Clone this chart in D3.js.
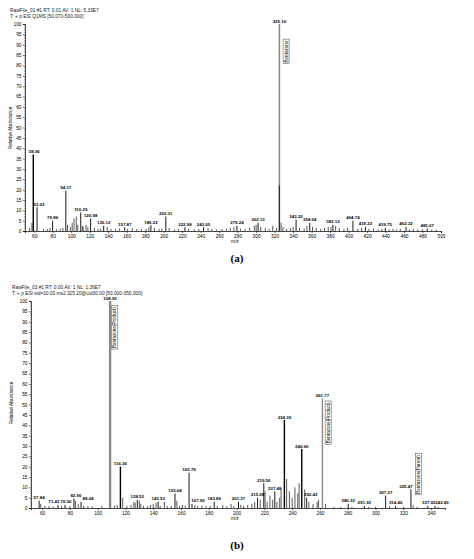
<!DOCTYPE html>
<html><head><meta charset="utf-8">
<script src="https://cdn.jsdelivr.net/npm/d3@7"></script>
<style>
body{margin:0;background:#fff;}
svg{display:block;font-family:"Liberation Sans",Arial,sans-serif;}
</style></head>
<body><svg id="c" width="474" height="559"></svg>
<script>
// ---------- Panel (a) data ----------
const headerA = ["RawFile_01 #1  RT: 0.01  AV: 1  NL: 5.33E7", "T: + p ESI Q1MS [50.070-500.000]"];
const mzA = [58.96, 63.03, 79.86, 94.17, 110.29, 120.98, 135.12, 157.87, 186.22, 202.31, 222.98, 243.05, 279.24, 302.13, 325.16, 343.22, 358.04, 383.12, 404.74, 418.23, 439.75, 462.22, 485.07];
const intA = [37, 11.5, 5, 19.5, 9, 6, 2.5, 1.8, 2.8, 7, 1.8, 1.8, 2.5, 4, 100, 5.5, 4, 3, 5, 2, 1.5, 2, 1.2];
const minorMzA = [55,57.5,70,74,77,84,88,91,96,99,101,103,105.5,107,112,113,116,118,125,129,132,139,143,148,152,161,166,171,176,181,184,190,195,198,206,212,216,227,233,238,248,252,257,263,268,272,276,283,288,293,298,300,305,310,314,318,322,327,329,333,337,340,347,352,355,361,365,370,374,378,381,386,390,395,399,410,414,422,427,432,436,444,448,452,456,466,470,475,480,490,495];
const minorIntA = [1.5,4,1,1,1.5,1,1.2,1.5,3,2,4,6,7,3,2.5,2,3,2,1.5,1,1.2,2,1,1,1.2,1,1.3,1,0.8,1,1.8,1.5,1,1.2,1.5,0.8,1,1,0.8,1,1.5,1,0.8,1,1,1.5,1.8,1.2,1,1.5,2.5,3,2,1.5,1,2.5,1.5,4,2,1,1.5,2,1.5,1.2,2.5,2,1.5,1,1.5,2,2,2.5,1.5,1,1.5,1,1.5,1,1.2,0.8,1,0.8,1,0.7,1,0.8,1,0.7,0.8,0.7,0.6];
const tagTextA = ["Bentazone"];
const tagMzA = [325.16];

// ---------- Panel (b) data ----------
const headerB = ["RawFile_03 #1  RT: 0.00  AV: 1  NL: 1.36E7", "T: + p ESI sid=10.00 ms2 325.20@cid30.00 [50.000-350.000]"];
const mzB = [57.84, 71.42, 76.50, 82.90, 88.04, 108.93, 116.36, 128.52, 143.53, 155.64, 165.79, 167.90, 183.89, 201.37, 215.08, 219.56, 227.48, 234.39, 246.90, 250.42, 261.77, 280.32, 291.93, 307.27, 314.46, 325.47, 337.65, 342.80];
const intB = [3.5, 1.5, 1.5, 4.5, 3, 100, 20, 4, 3, 7, 17, 2, 3, 3, 5, 12, 8, 42.5, 28.5, 5, 53, 2, 1, 6, 1, 9, 1, 1];
const minorMzB = [59,62,65,68,74,80,84,86,90,93,96,103,112,114,118,121,124,126,127,130,131,133,136,138,140,142,145,148,150,153,157,159,161,163,170,172,175,178,181,186,190,193,196,198,203,205,208,211,213,217,220.5,222,224,226,229,231,232,236,238,240,242,244,245,249,252,255,258,259,264,270,275,283,295,300,310,320,327,330,345];
const minorIntB = [2,1,1,0.8,1,1,3.5,2,1,1,0.8,1,1.2,1.5,5,1,1.5,3,2.5,3.5,2,1,1,1.5,2,2.5,1,3,1,1,3.5,1,1.5,1,1.5,1,1.2,1,1,1,1.5,1,2,1,1.5,1,1.5,2,3,4,8,3,6,4,3,5,9,14,8,5,10,7,12,9,3,2,3,4,2,0.5,0.5,0.6,0.5,0.5,0.8,0.5,1.5,0.5,0.5];
const tagTextB = ["Bentazone(Product)", "Bentazone(Product)", "Bentazone(Parent)"];
const tagMzB = [108.93, 261.77, 325.47];

const yTicks = d3.range(0, 101, 5);

const svg = d3.select("#c");

function panel(cfg){
  const g = svg.append("g");
  const x = d3.scaleLinear().domain(cfg.xDomain).range(cfg.xRange);
  const y = d3.scaleLinear().domain([0,100]).range(cfg.yRange);

  cfg.header.forEach((t,i)=>g.append("text").attr("x",cfg.hx).attr("y",cfg.hy+i*5.5)
    .attr("font-size",4.8).attr("fill","#222").text(t));

  const ya = g.append("g").attr("transform",`translate(${cfg.xRange[0]},0)`)
    .call(d3.axisLeft(y).tickValues(yTicks).tickSize(2).tickPadding(1.5).tickFormat(d3.format("d")));
  ya.select(".domain").attr("stroke-width",0.7);
  ya.selectAll(".tick line").attr("stroke-width",0.6);
  ya.selectAll("text").attr("font-size",4.8).attr("font-family","Liberation Sans,Arial");
  ya.selectAll(".mt").data(d3.range(1,100).filter(v=>v%5)).enter().append("line")
    .attr("x1",0).attr("x2",-1).attr("y1",d=>y(d)).attr("y2",d=>y(d)).attr("stroke","#000").attr("stroke-width",0.4);

  const xa = g.append("g").attr("transform",`translate(0,${cfg.yRange[0]})`)
    .call(d3.axisBottom(x).tickValues(cfg.xTicks).tickSize(2).tickPadding(1.5).tickFormat(d3.format("d")));
  xa.select(".domain").attr("stroke-width",0.7);
  xa.selectAll(".tick line").attr("stroke-width",0.6);
  xa.selectAll("text").attr("font-size",4.8).attr("font-family","Liberation Sans,Arial");
  const minorX = d3.range(Math.ceil(cfg.xDomain[0]/5)*5, cfg.xDomain[1]+0.1, 5).filter(v=>v%20);
  xa.selectAll(".mt").data(minorX).enter().append("line")
    .attr("x1",d=>x(d)).attr("x2",d=>x(d)).attr("y1",0).attr("y2",1).attr("stroke","#000").attr("stroke-width",0.4);

  g.append("text").attr("transform",`translate(${cfg.ylx},${cfg.yly}) rotate(-90)`)
    .attr("text-anchor","middle").attr("font-size",4.8).text("Relative Abundance");
  g.append("text").attr("x",cfg.mzx).attr("y",cfg.yRange[0]+12).attr("font-size",4.8).text("m/z");

  g.selectAll(".mp").data(cfg.minorMz.map((m,i)=>({m, v:cfg.minorInt[i]}))).enter().append("line")
    .attr("x1",d=>x(d.m)).attr("x2",d=>x(d.m)).attr("y1",y(0)).attr("y2",d=>y(d.v))
    .attr("stroke","#111").attr("stroke-width",0.7);

  const pk = cfg.mz.map((m,i)=>({m, v:cfg.int[i], i}));
  g.selectAll(".pk").data(pk).enter().append("line")
    .attr("x1",d=>x(d.m)).attr("x2",d=>x(d.m)).attr("y1",y(0)).attr("y2",d=>y(d.v))
    .attr("stroke",d=>d.v>=50?"#8a8a8a":"#000")
    .attr("stroke-width",d=>d.v>=90?cfg.bigW:(d.v>=20?1.4:0.9));
  if(cfg.baseDark){
    g.append("line").attr("x1",x(cfg.baseDark[0])).attr("x2",x(cfg.baseDark[0]))
      .attr("y1",y(0)).attr("y2",y(cfg.baseDark[1])).attr("stroke","#222").attr("stroke-width",1);
  }
  g.selectAll(".pl").data(pk).enter().append("text")
    .attr("x",d=>x(d.m)+(cfg.labelDx[d.i]||0)).attr("y",d=>y(d.v)-1.5).attr("text-anchor","middle")
    .attr("font-size",4.4).attr("font-weight","bold").text(d=>d.m.toFixed(2));

  cfg.tagText.forEach((t,k)=>{
    const tx = x(cfg.tagMz[k])+cfg.tagLayout[k][0], ty = y(cfg.tagLayout[k][1]);
    const tg = g.append("g").attr("transform",`translate(${tx},${ty}) rotate(-90)`);
    const txt = tg.append("text").attr("x",0).attr("y",0).attr("text-anchor","end")
      .attr("dominant-baseline","middle").attr("font-size",4.6).text(t);
    const bb = txt.node().getBBox();
    tg.insert("rect","text").attr("x",bb.x-1).attr("y",bb.y-0.5).attr("width",bb.width+2).attr("height",bb.height+1)
      .attr("fill","#fff").attr("stroke","#444").attr("stroke-width",0.5);
  });

  svg.append("text").attr("x",237).attr("y",cfg.letterY).attr("text-anchor","middle")
    .attr("font-family","Liberation Serif,Times New Roman,serif").attr("font-weight","bold")
    .attr("font-size",11).text(cfg.letter);
}

panel({header:headerA, hx:10, hy:12, xDomain:[50,500], xRange:[25,441], yRange:[231,24],
  xTicks:d3.range(60,501,20), mz:mzA, int:intA, minorMz:minorMzA, minorInt:minorIntA,
  tagText:tagTextA, tagMz:tagMzA, tagLayout:[[7,92]], labelDx:{0:1,1:2},
  bigW:1.6, baseDark:[325.16,22], ylx:12, yly:128, mzx:231, letter:"(a)", letterY:262});

panel({header:headerB, hx:12, hy:289, xDomain:[52,350], xRange:[31,445], yRange:[508,301],
  xTicks:d3.range(60,341,20), mz:mzB, int:intB, minorMz:minorMzB, minorInt:minorIntB,
  tagText:tagTextB, tagMz:tagMzB, tagLayout:[[5,97],[6,51],[8,25.5]],
  labelDx:{1:-4,2:1,3:2,4:7,11:6,19:4,25:-5,26:1,27:7},
  bigW:2.4, ylx:13, yly:403, mzx:231, letter:"(b)", letterY:549});
</script></body></html>
